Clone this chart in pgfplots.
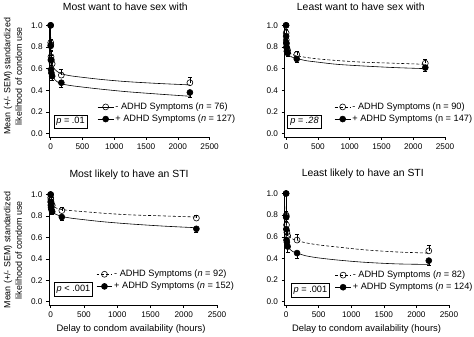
\documentclass[border=0pt]{standalone}
\usepackage{pgfplots}
\pgfplotsset{compat=1.18}
\usepackage{pgfplotstable}
\usepackage{fontspec}
\setmainfont{Liberation Sans}

% delay  value  error
\pgfplotstableread{
d v e
0 1.00 0
1 0.84 0.16
3 0.82 0.05
6 0.71 0.05
12 0.68 0.04
24 0.645 0.04
168 0.54 0.05
2190 0.47 0.05
}\tlopen
\pgfplotstableread{
d v e
0 1.00 0
1 0.81 0.04
3 0.68 0.05
6 0.59 0.05
12 0.56 0.04
24 0.53 0.04
168 0.47 0.04
2190 0.38 0.04
}\tlclosed
\pgfplotstableread{
d v e
0 1.00 0
1 0.93 0.03
3 0.865 0.03
6 0.83 0.03
12 0.79 0.03
24 0.77 0.03
168 0.73 0.035
2190 0.65 0.04
}\tropen
\pgfplotstableread{
d v e
0 1.00 0
1 0.90 0.03
3 0.84 0.03
6 0.80 0.03
12 0.76 0.03
24 0.745 0.03
168 0.69 0.03
2190 0.61 0.03
}\trclosed
\pgfplotstableread{
d v e
0 1.00 0
1 0.97 0.02
3 0.95 0.02
6 0.93 0.02
12 0.91 0.02
24 0.90 0.02
168 0.85 0.03
2190 0.78 0.03
}\blopen
\pgfplotstableread{
d v e
0 1.00 0
1 0.93 0.02
3 0.90 0.02
6 0.88 0.02
12 0.86 0.02
24 0.84 0.02
168 0.79 0.03
2190 0.68 0.03
}\blclosed
\pgfplotstableread{
d v e
0 1.00 0
1 0.80 0.20
3 0.79 0.05
6 0.71 0.05
12 0.64 0.05
24 0.61 0.05
168 0.57 0.05
2190 0.47 0.05
}\bropen
\pgfplotstableread{
d v e
0 1.00 0
1 0.78 0.04
3 0.67 0.05
6 0.57 0.05
12 0.55 0.05
24 0.51 0.05
168 0.45 0.05
2190 0.38 0.04
}\brclosed

\pgfplotsset{
  prism/.style={
    scale only axis,
    axis lines=left,
    axis line style={-, line width=0.7pt, black},
    xmin=-25, xmax=2500, ymin=-0.03, ymax=1.0,
    xtick={0,500,1000,1500,2000,2500},
    ytick={0,0.2,0.4,0.6,0.8,1.0},
    yticklabel style={/pgf/number format/.cd, fixed, fixed zerofill, precision=1},
    /pgf/number format/1000 sep={},
    /pgf/number format/assume math mode=true,
    tick align=outside,
    major tick length=3bp,
    tick style={line width=0.6pt, black},
    ticklabel style={font=\fontsize{8.3}{10}\selectfont},
    clip=false,
    title style={font=\fontsize{10.5}{12}\selectfont, yshift=5bp, xshift=-4bp},
    legend cell align=left,
    legend style={draw=none, fill=none, font=\fontsize{9.3}{11}\selectfont,
      inner sep=0pt, row sep=1bp, anchor=north west,
      nodes={inner sep=1.5bp}},
    legend image code/.code={\draw[mark repeat=2,mark phase=2,##1] plot coordinates {(0bp,0bp) (8bp,0bp) (16bp,0bp)};},
  },
  openpts/.style={only marks, mark=o, mark size=3bp, mark options={fill=white, line width=0.6pt, solid},
    error bars/y dir=plus, error bars/y explicit,
    error bars/error bar style={line width=0.5pt, black},
    error bars/error mark options={rotate=90, mark size=2bp, line width=0.5pt}},
  closedpts/.style={only marks, mark=*, mark size=3bp, mark options={fill=black, line width=0.6pt, solid},
    error bars/y dir=minus, error bars/y explicit,
    error bars/error bar style={line width=0.5pt, black},
    error bars/error mark options={rotate=90, mark size=2bp, line width=0.5pt}},
  opencurve/.style={black, line width=0.6pt, densely dashed, no marks, smooth},
  closedcurve/.style={black, line width=0.6pt, no marks, smooth},
}

\begin{document}
\begin{tikzpicture}
\path (0,0) rectangle (474bp,334bp);

% ---------- Top left ----------
\begin{axis}[prism, at={(49.4bp,199bp)}, anchor=south west, width=161.6bp, height=112.3bp,
  title={Most want to have sex with},
  legend style={at={(0.30,0.32)}}]
\addlegendimage{black, line width=0.6pt, mark=o, mark size=3bp, mark options={fill=white, solid}}
\addlegendentry{- ADHD Symptoms (\textit{n} = 76)}
\addlegendimage{black, line width=0.6pt, mark=*, mark size=3bp, mark options={fill=black, solid}}
\addlegendentry{+ ADHD Symptoms (\textit{n} = 127)}
\addplot[opencurve, densely dashed=false, solid, forget plot] coordinates {(0,0.92)(5,0.74)(10,0.69)(25,0.64)(50,0.605)(100,0.575)(168,0.553)(300,0.535)(500,0.52)(800,0.50)(1200,0.48)(1700,0.463)(2190,0.45)};
\addplot[closedcurve, forget plot] coordinates {(0,0.82)(5,0.63)(10,0.585)(25,0.54)(50,0.51)(100,0.48)(168,0.46)(300,0.445)(500,0.43)(800,0.41)(1200,0.387)(1700,0.365)(2190,0.345)};
\addplot[closedpts, forget plot] table[x=d, y=v, y error=e] {\tlclosed};
\addplot[openpts, forget plot] table[x=d, y=v, y error=e] {\tlopen};
\end{axis}

% ---------- Top right ----------
\begin{axis}[prism, at={(286.4bp,199bp)}, anchor=south west, width=161.6bp, height=112.3bp,
  title={Least want to have sex with},
  legend style={at={(0.31,0.32)}}]
\addlegendimage{black, line width=0.6pt, densely dashed, mark=o, mark size=3bp, mark options={fill=white, solid}}
\addlegendentry{- ADHD Symptoms (n = 90)}
\addlegendimage{black, line width=0.6pt, mark=*, mark size=3bp, mark options={fill=black, solid}}
\addlegendentry{+ ADHD Symptoms (n = 147)}
\addplot[opencurve, forget plot] coordinates {(0,0.88)(5,0.80)(10,0.78)(25,0.76)(50,0.745)(100,0.73)(168,0.72)(300,0.705)(500,0.69)(800,0.675)(1200,0.66)(1700,0.65)(2190,0.64)};
\addplot[closedcurve, forget plot] coordinates {(0,0.84)(5,0.77)(10,0.75)(25,0.735)(50,0.72)(100,0.705)(168,0.695)(300,0.675)(500,0.66)(800,0.64)(1200,0.625)(1700,0.61)(2190,0.60)};
\addplot[closedpts, forget plot] table[x=d, y=v, y error=e] {\trclosed};
\addplot[openpts, forget plot] table[x=d, y=v, y error=e] {\tropen};
\end{axis}

% ---------- Bottom left ----------
\begin{axis}[prism, at={(49.3bp,29.8bp)}, anchor=south west, width=169.2bp, height=111.2bp,
  title={Most likely to have an STI},
  legend style={at={(0.28,0.33)}}]
\addlegendimage{black, line width=0.6pt, densely dashed, mark=o, mark size=3bp, mark options={fill=white, solid}}
\addlegendentry{- ADHD Symptoms (\textit{n} = 92)}
\addlegendimage{black, line width=0.6pt, mark=*, mark size=3bp, mark options={fill=black, solid}}
\addlegendentry{+ ADHD Symptoms (\textit{n} = 152)}
\addplot[opencurve, forget plot] coordinates {(0,0.96)(5,0.93)(10,0.92)(25,0.90)(50,0.885)(100,0.87)(168,0.86)(300,0.85)(500,0.84)(800,0.825)(1200,0.81)(1700,0.80)(2190,0.79)};
\addplot[closedcurve, forget plot] coordinates {(0,0.92)(5,0.875)(10,0.86)(25,0.84)(50,0.825)(100,0.81)(168,0.795)(300,0.78)(500,0.765)(800,0.745)(1200,0.725)(1700,0.705)(2190,0.69)};
\addplot[closedpts, forget plot] table[x=d, y=v, y error=e] {\blclosed};
\addplot[openpts, forget plot] table[x=d, y=v, y error=e] {\blopen};
\end{axis}

% ---------- Bottom right ----------
\begin{axis}[prism, at={(286.4bp,29.7bp)}, anchor=south west, width=165.6bp, height=112.3bp,
  title={Least likely to have an STI},
  legend style={at={(0.305,0.32)}}]
\addlegendimage{black, line width=0.6pt, densely dashed, mark=o, mark size=3bp, mark options={fill=white, solid}}
\addlegendentry{- ADHD Symptoms (\textit{n} = 82)}
\addlegendimage{black, line width=0.6pt, mark=*, mark size=3bp, mark options={fill=black, solid}}
\addlegendentry{+ ADHD Symptoms (\textit{n} = 124)}
\addplot[opencurve, forget plot] coordinates {(0,0.88)(5,0.70)(10,0.66)(25,0.62)(50,0.60)(100,0.58)(168,0.565)(300,0.545)(500,0.525)(800,0.505)(1200,0.48)(1700,0.46)(2190,0.45)};
\addplot[closedcurve, forget plot] coordinates {(0,0.80)(5,0.60)(10,0.56)(25,0.51)(50,0.49)(100,0.465)(168,0.45)(300,0.425)(500,0.405)(800,0.385)(1200,0.365)(1700,0.35)(2190,0.345)};
\addplot[closedpts, forget plot] table[x=d, y=v, y error=e] {\brclosed};
\addplot[openpts, forget plot] table[x=d, y=v, y error=e] {\bropen};
\end{axis}

% p-value boxes
\node[draw, line width=0.6pt, inner sep=2.5bp, font=\fontsize{9.3}{11}\selectfont] at (71bp,214.5bp) {\textit{p} = .01};
\node[draw, line width=0.6pt, inner sep=2.5bp, font=\fontsize{9.3}{11}\selectfont] at (306.5bp,214.5bp) {\textit{p = .28}};
\node[draw, line width=0.6pt, inner sep=2.5bp, font=\fontsize{9.3}{11}\selectfont] at (74bp,45.5bp) {\textit{p} {\textless} .001};
\node[draw, line width=0.6pt, inner sep=2.5bp, font=\fontsize{9.3}{11}\selectfont] at (312.5bp,44.5bp) {\textit{p} = .001};

% y labels
\node[rotate=90, align=center, font=\fontsize{9}{11.5}\selectfont] at (13bp,260bp) {Mean (+/- SEM) standardized\\likelihood of condom use};
\node[rotate=90, align=center, font=\fontsize{9}{11.5}\selectfont] at (13bp,85bp) {Mean (+/- SEM) standardized\\likelihood of condom use};

% x labels
\node[font=\fontsize{9.5}{11}\selectfont] at (132bp,6bp) {Delay to condom availability (hours)};
\node[font=\fontsize{9.5}{11}\selectfont] at (369bp,6bp) {Delay to condom availability (hours)};
\end{tikzpicture}
\end{document}
